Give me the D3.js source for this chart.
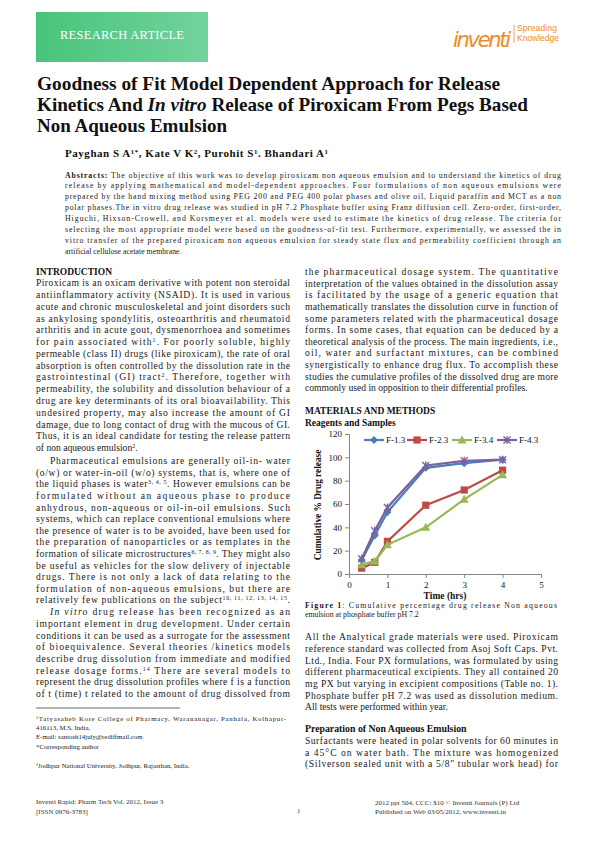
<!DOCTYPE html>
<html><head><meta charset="utf-8">
<script src="https://cdn.jsdelivr.net/npm/d3@7"></script>
<style>body{margin:0;background:#fff}svg{display:block}</style>
</head><body>
<svg id="page" width="595" height="842"></svg>
<script>
// ---------- chart data ----------
const times = [0.33, 0.67, 1, 2, 3, 4];
const seriesNames = ["F-1.3", "F-2.3", "F-3.4", "F-4.3"];
const f13 = [12, 33, 53, 91, 95, 98];
const f23 = [5, 10, 28, 59, 72, 89];
const f34 = [8, 11, 25, 40, 64, 85];
const f43 = [13, 37, 57, 93, 97, 98];
const xTicks = [0, 1, 2, 3, 4, 5];
const yTicks = [0, 20, 40, 60, 80, 100, 120];

// ---------- page text ----------
const titleLines = ["Goodness of Fit Model Dependent Approach for Release",
  "Kinetics And *In vitro* Release of Piroxicam From Pegs Based",
  "Non Aqueous Emulsion"];
const abstractLines = [
 ["**Abstracts:** The objective of this work was to develop piroxicam non aqueous emulsion and to understand the kinetics of drug",1],
 ["release by applying mathematical and model-dependent approaches. Four formulations of non aqueous emulsions were",1],
 ["prepared by the hand mixing method using PEG 200 and PEG 400 polar phases and olive oil, Liquid paraffin and MCT as a non",1],
 ["polar phases.The in vitro drug release was studied in pH 7.2 Phosphate buffer using Franz diffusion cell. Zero-order, first-order,",1],
 ["Higuchi, Hixson-Crowell, and Korsmeyer et al. models were used to estimate the kinetics of drug release. The criteria for",1],
 ["selecting the most appropriate model were based on the goodness-of-fit test. Furthermore, experimentally, we assessed the in",1],
 ["vitro transfer of the prepared piroxicam non aqueous emulsion for steady state flux and permeability coefficient through an",1],
 ["artificial cellulose acetate membrane.",0]];
const leftP1 = [
 ["Piroxicam is an oxicam derivative with potent non steroidal",1],
 ["antiinflammatory activity (NSAID). It is used in various",1],
 ["acute and chronic musculoskeletal and joint disorders such",1],
 ["as ankylosing spondylitis, osteoarthritis and rheumatoid",1],
 ["arthritis and in acute gout, dysmenorrhoea and sometimes",1],
 ["for pain associated with^{1}. For poorly soluble, highly",1],
 ["permeable (class II) drugs (like piroxicam), the rate of oral",1],
 ["absorption is often controlled by the dissolution rate in the",1],
 ["gastrointestinal (GI) tract^{2}. Therefore, together with",1],
 ["permeability, the solubility and dissolution behaviour of a",1],
 ["drug are key determinants of its oral bioavailability. This",1],
 ["undesired property, may also increase the amount of GI",1],
 ["damage, due to long contact of drug with the mucous of GI.",1],
 ["Thus, it is an ideal candidate for testing the release pattern",1],
 ["of non aqueous emulsion^{2}.",0]];
const leftP2 = [
 ["Pharmaceutical emulsions are generally oil-in- water",1],
 ["(o/w) or water-in-oil (w/o) systems, that is, where one of",1],
 ["the liquid phases is water^{3, 4, 5}. However emulsions can be",1],
 ["formulated without an aqueous phase to produce",1],
 ["anhydrous, non-aqueous or oil-in-oil emulsions. Such",1],
 ["systems, which can replace conventional emulsions where",1],
 ["the presence of water is to be avoided, have been used for",1],
 ["the preparation of nanoparticles or as templates in the",1],
 ["formation of silicate microstructures^{6, 7, 8, 9}. They might also",1],
 ["be useful as vehicles for the slow delivery of injectable",1],
 ["drugs. There is not only a lack of data relating to the",1],
 ["formulation of non-aqueous emulsions, but there are",1],
 ["relatively few publications on the subject^{10, 11, 12, 13, 14, 15}.",1]];
const leftP3 = [
 ["*In vitro* drug release has been recognized as an",1],
 ["important element in drug development. Under certain",1],
 ["conditions it can be used as a surrogate for the assessment",1],
 ["of bioequivalence. Several theories /kinetics models",1],
 ["describe drug dissolution from immediate and modified",1],
 ["release dosage forms.^{14} There are several models to",1],
 ["represent the drug dissolution profiles where f is a function",1],
 ["of t (time) t related to the amount of drug dissolved from",1]];
const rightP1 = [
 ["the pharmaceutical dosage system. The quantitative",1],
 ["interpretation of the values obtained in the dissolution assay",1],
 ["is facilitated by the usage of a generic equation that",1],
 ["mathematically translates the dissolution curve in function of",1],
 ["some parameters related with the pharmaceutical dosage",1],
 ["forms. In some cases, that equation can be deduced by a",1],
 ["theoretical analysis of the process. The main ingredients, i.e.,",1],
 ["oil, water and surfactant mixtures, can be combined",1],
 ["synergistically to enhance drug flux. To accomplish these",1],
 ["studies the cumulative profiles of the dissolved drug are more",1],
 ["commonly used in opposition to their differential profiles.",0]];
const rightP2 = [
 ["All the Analytical grade materials were used. Piroxicam",1],
 ["reference standard was collected from Asoj Soft Caps. Pvt.",1],
 ["Ltd., India. Four PX formulations, was formulated by using",1],
 ["different pharmaceutical excipients. They all contained 20",1],
 ["mg PX but varying in excipient compositions (Table no. 1).",1],
 ["Phosphate buffer pH 7.2 was used as dissolution medium.",1],
 ["All tests were performed within year.",0]];
const rightP3 = [
 ["Surfactants were heated in polar solvents for 60 minutes in",1],
 ["a 45°C on water bath. The mixture was homogenized",1],
 ["(Silverson sealed unit with a 5/8\" tubular work head) for",1]];
const footnotes = ["^{1}Tatyasaheb Kore College of Pharmacy, Warananagar, Panhala, Kolhapur-",
 "416113, M.S, India.", "E-mail: santosh14july@rediffmail.com", "*Corresponding author"];

const svg = d3.select("#page");
const SERIF = "'Liberation Serif', 'DejaVu Serif', serif";

function markup(s){
  return s.replace(/&/g,"&amp;").replace(/</g,"&lt;")
   .replace(/\*\*(.+?)\*\*/g,'<tspan font-weight="bold">$1</tspan>')
   .replace(/\*(.+?)\*/g,'<tspan font-style="italic">$1</tspan>')
   .replace(/\^\{(.+?)\}/g,'<tspan font-size="0.62em" baseline-shift="super">$1</tspan>');
}
function lines(arr, x0, x1, yStart, dy, size, indent, opts={}){
  arr.forEach((l,i)=>{
    const x = x0 + (i===0 ? (indent||0) : 0);
    const t = svg.append("text").attr("x",x).attr("y",yStart+i*dy+size*0.33)
      .attr("font-family",SERIF).attr("font-size",size).attr("fill",opts.fill||"#1a1a1a")
      .html(markup(l[0]));
    if(opts.bold) t.attr("font-weight","bold");
    if(l[1]){ t.attr("textLength",x1-x).attr("lengthAdjust","spacing"); }
  });
}

// header
const g = svg.append("defs").append("linearGradient").attr("id","hg");
g.append("stop").attr("offset","0").attr("stop-color","#48c47a");
g.append("stop").attr("offset","1").attr("stop-color","#72d39c");
svg.append("rect").attr("x",36).attr("y",12).attr("width",172).attr("height",50).attr("fill","url(#hg)");
svg.append("text").attr("x",60).attr("y",39).attr("font-family",SERIF).attr("font-size",12.5)
  .attr("fill","#fff").attr("textLength",124).text("RESEARCH ARTICLE");
svg.append("text").attr("x",453).attr("y",47).attr("font-family","'DejaVu Sans', sans-serif")
  .attr("font-size",21).attr("font-weight","200").attr("font-style","italic").attr("fill","#f08a24")
  .attr("textLength",58).text("inventi");
svg.append("line").attr("x1",514).attr("x2",514).attr("y1",25).attr("y2",43).attr("stroke","#f08a24").attr("stroke-width",0.8);
svg.append("text").attr("x",517).attr("y",31).attr("font-family","'Liberation Sans',sans-serif").attr("font-size",8.5).attr("fill","#f08a24").attr("textLength",40).text("Spreading");
svg.append("text").attr("x",517).attr("y",41).attr("font-family","'Liberation Sans',sans-serif").attr("font-size",8.5).attr("fill","#f08a24").attr("textLength",42).text("Knowledge");

// title
const titleW = [463, 491, 190];
titleLines.forEach((t,i)=>{
  svg.append("text").attr("x",37).attr("y",90+i*21).attr("font-family",SERIF).attr("font-size",19)
    .attr("font-weight","bold").attr("fill","#111").attr("textLength",titleW[i]).attr("lengthAdjust","spacingAndGlyphs").html(markup(t));
});
svg.append("text").attr("x",65).attr("y",157).attr("font-family",SERIF).attr("font-size",11)
  .attr("font-weight","bold").attr("fill","#111").attr("textLength",263)
  .html(markup("Payghan S A^{1*}, Kate V K^{2}, Purohit S^{1}. Bhandari A^{1}"));

lines(abstractLines, 65, 561, 175, 10.85, 7.8, 0);

// left column
svg.append("text").attr("x",36).attr("y",275).attr("font-family",SERIF).attr("font-size",9.5).attr("font-weight","bold").attr("fill","#111").text("INTRODUCTION");
lines(leftP1, 36, 290, 283, 11.78, 9.6, 0);
lines(leftP2, 36, 290, 461, 11.6, 9.6, 14);
lines(leftP3, 36, 290, 612, 11.7, 9.6, 14);
svg.append("line").attr("x1",36).attr("x2",180).attr("y1",708).attr("y2",708).attr("stroke","#222").attr("stroke-width",0.7);
footnotes.forEach((f,i)=>{
  const t = svg.append("text").attr("x",36).attr("y",[721,730,739,749][i]).attr("font-family",SERIF).attr("font-size",6.8).attr("fill","#222").html(markup(f));
  if(i===0) t.attr("textLength",250);
});
svg.append("text").attr("x",36).attr("y",768).attr("font-family",SERIF).attr("font-size",6.8).attr("fill","#222").html(markup("^{2}Jodhpur National University, Jodhpur, Rajasthan, India."));
svg.append("text").attr("x",36).attr("y",804).attr("font-family",SERIF).attr("font-size",7).attr("fill","#333").text("Inventi Rapid: Pharm Tech Vol. 2012, Issue 3");
svg.append("text").attr("x",36).attr("y",814).attr("font-family",SERIF).attr("font-size",7).attr("fill","#333").text("[ISSN 0976-3783]");
svg.append("text").attr("x",297).attr("y",813).attr("font-family",SERIF).attr("font-size",7).attr("fill","#333").text("1");
svg.append("text").attr("x",375).attr("y",805).attr("font-family",SERIF).attr("font-size",7).attr("fill","#333").text("2012 ppt 504, CCC: $10 © Inventi Journals (P) Ltd");
svg.append("text").attr("x",375).attr("y",814).attr("font-family",SERIF).attr("font-size",7).attr("fill","#333").text("Published on Web 03/05/2012, www.inventi.in");

// right column
lines(rightP1, 305, 558, 272, 11.6, 9.6, 0);
svg.append("text").attr("x",305).attr("y",414).attr("font-family",SERIF).attr("font-size",9.5).attr("font-weight","bold").attr("fill","#111").text("MATERIALS AND METHODS");
svg.append("text").attr("x",305).attr("y",426).attr("font-family",SERIF).attr("font-size",9.5).attr("font-weight","bold").attr("fill","#111").text("Reagents and Samples");
lines([["**Figure 1**: Cumulative percentage drug release Non aqueous",1],["emulsion at phosphate buffer pH 7.2",0]], 305, 557, 605, 9.3, 7.8, 0);
lines(rightP2, 305, 558, 637, 11.7, 9.6, 0);
svg.append("text").attr("x",305).attr("y",732).attr("font-family",SERIF).attr("font-size",9.8).attr("font-weight","bold").attr("fill","#111").text("Preparation of Non Aqueous Emulsion");
lines(rightP3, 305, 558, 741, 11.6, 9.6, 0);

// ---------- chart ----------
const x = d3.scaleLinear().domain([0,5]).range([349,541]);
const y = d3.scaleLinear().domain([0,120]).range([574,434]);
const colors = ["#4a7ebb","#be4b48","#98b954","#7d60a0"];
const data = [f13,f23,f34,f43];
const ch = svg.append("g");
const xa = ch.append("g").attr("transform","translate(0,574)").call(d3.axisBottom(x).tickValues(xTicks).tickSize(4).tickFormat(d3.format("d")));
const ya = ch.append("g").attr("transform","translate(349,0)").call(d3.axisLeft(y).tickValues(yTicks).tickSize(4));
[xa,ya].forEach(a=>{
  a.selectAll("path,line").attr("stroke","#868686");
  a.selectAll("text").attr("font-family",SERIF).attr("font-size",9).attr("fill","#111");
});
xa.selectAll("text").attr("dy","0.8em");
ch.append("text").attr("transform","translate(321,505) rotate(-90)").attr("text-anchor","middle")
  .attr("font-family",SERIF).attr("font-size",9.3).attr("font-weight","bold").attr("fill","#111").text("Cumulative % Drug release");
ch.append("text").attr("x",445).attr("y",599).attr("text-anchor","middle")
  .attr("font-family",SERIF).attr("font-size",9.5).attr("font-weight","bold").attr("fill","#111").text("Time (hrs)");

function marker(sel, i, c){
  if(i===0) sel.append("path").attr("d","M0,-4L4,0L0,4L-4,0Z").attr("fill",c);
  else if(i===1) sel.append("rect").attr("x",-3.6).attr("y",-3.6).attr("width",7.2).attr("height",7.2).attr("fill",c);
  else if(i===2) sel.append("path").attr("d","M0,-4.5L4.5,3.5L-4.5,3.5Z").attr("fill",c);
  else sel.append("path").attr("d","M-3.5,-3.5L3.5,3.5M-3.5,3.5L3.5,-3.5M0,-4V4").attr("stroke",c).attr("stroke-width",1.4).attr("fill","none");
}
const line = d3.line().x((d,i)=>x(times[i])).y(d=>y(d));
data.forEach((vals,si)=>{
  ch.append("path").datum(vals).attr("d",line).attr("fill","none").attr("stroke",colors[si]).attr("stroke-width",2.2);
  vals.forEach((v,i)=>{ marker(ch.append("g").attr("transform",`translate(${x(times[i])},${y(v)})`), si, colors[si]); });
});
// legend
const legX = [364, 407, 452, 497];
seriesNames.forEach((n,i)=>{
  const lg = ch.append("g").attr("transform",`translate(${legX[i]},440)`);
  lg.append("line").attr("x1",0).attr("x2",20).attr("stroke",colors[i]).attr("stroke-width",2.2);
  marker(lg.append("g").attr("transform","translate(10,0)"), i, colors[i]);
  lg.append("text").attr("x",22).attr("y",3).attr("font-family",SERIF).attr("font-size",9).attr("fill","#111").text(n);
});
</script>
</body></html>
